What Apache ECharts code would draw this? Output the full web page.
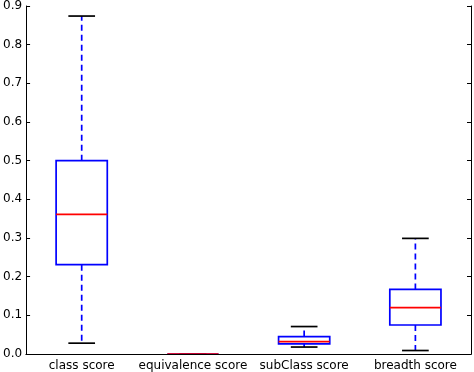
<!DOCTYPE html>
<html>
<head>
<meta charset="utf-8">
<script src="https://cdn.jsdelivr.net/npm/echarts@6/dist/echarts.min.js"></script>
<style>html,body{margin:0;padding:0;background:#fff}#c{width:474px;height:372px}</style>
</head>
<body>
<div id="c"></div>
<script>
const categories = ['class score', 'equivalence score', 'subClass score', 'breadth score'];
const whiskerLow = [0.028, 0, 0.018, 0.009];
const q1 = [0.231, 0, 0.026, 0.075];
const median = [0.361, 0, 0.032, 0.120];
const q3 = [0.500, 0, 0.045, 0.167];
const whiskerHigh = [0.874, 0, 0.071, 0.299];
const yTicks = [0, 0.1, 0.2, 0.3, 0.4, 0.5, 0.6, 0.7, 0.8, 0.9];

const data = categories.map((c, i) => [i, whiskerLow[i], q1[i], median[i], q3[i], whiskerHigh[i]]);

function renderItem(params, api) {
  const i = api.value(0);
  const band = api.size([1, 0])[0];
  const half = band * 0.23;
  const capHalf = band * 0.12;
  const pLow = api.coord([i, api.value(1)]);
  const pQ1 = api.coord([i, api.value(2)]);
  const pMed = api.coord([i, api.value(3)]);
  const pQ3 = api.coord([i, api.value(4)]);
  const pHigh = api.coord([i, api.value(5)]);
  const x = pMed[0];
  const blue = '#0000ff';
  const lw = 1.7;
  return {
    type: 'group',
    children: [
      {type: 'line', shape: {x1: x, y1: pQ3[1], x2: x, y2: pHigh[1]}, style: {stroke: blue, lineWidth: lw, lineDash: [6, 4]}},
      {type: 'line', shape: {x1: x, y1: pQ1[1], x2: x, y2: pLow[1]}, style: {stroke: blue, lineWidth: lw, lineDash: [6, 4]}},
      {type: 'line', shape: {x1: x - capHalf, y1: pHigh[1], x2: x + capHalf, y2: pHigh[1]}, style: {stroke: '#000', lineWidth: lw}},
      {type: 'line', shape: {x1: x - capHalf, y1: pLow[1], x2: x + capHalf, y2: pLow[1]}, style: {stroke: '#000', lineWidth: lw}},
      {type: 'rect', shape: {x: x - half, y: pQ3[1], width: 2 * half, height: pQ1[1] - pQ3[1]}, style: {stroke: blue, fill: 'none', lineWidth: lw}},
      {type: 'line', shape: {x1: x - half, y1: pMed[1], x2: x + half, y2: pMed[1]}, style: {stroke: '#ff0000', lineWidth: lw}}
    ]
  };
}

const chart = echarts.init(document.getElementById('c'));
const axisFont = {fontFamily: 'DejaVu Sans', fontSize: 12, color: '#000'};
chart.setOption({
  animation: false,
  grid: {left: 21, right: 3, top: 5, bottom: 16, containLabel: false},
  xAxis: [
    {type: 'category', data: categories, position: 'bottom', z: 10,
     axisLine: {lineStyle: {color: '#000', width: 1}},
     axisTick: {inside: true, alignWithLabel: true, length: 4, lineStyle: {color: '#000'}},
     axisLabel: Object.assign({margin: 6, interval: 0}, axisFont),
     splitLine: {show: false}},
    {type: 'category', data: categories, position: 'top', z: 10,
     axisLine: {lineStyle: {color: '#000', width: 1}},
     axisTick: {inside: true, alignWithLabel: true, length: 4, lineStyle: {color: '#000'}},
     axisLabel: {show: false}, splitLine: {show: false}}
  ],
  yAxis: [
    {type: 'value', min: 0, max: 0.9, interval: 0.1, position: 'left', z: 10,
     axisLine: {show: true, lineStyle: {color: '#000', width: 1}},
     axisTick: {show: true, inside: true, length: 4, lineStyle: {color: '#000'}},
     axisLabel: Object.assign({margin: 4, formatter: v => v.toFixed(1)}, axisFont),
     splitLine: {show: false}},
    {type: 'value', min: 0, max: 0.9, interval: 0.1, position: 'right', z: 10,
     axisLine: {show: true, lineStyle: {color: '#000', width: 1}},
     axisTick: {show: true, inside: true, length: 4, lineStyle: {color: '#000'}},
     axisLabel: {show: false}, splitLine: {show: false}}
  ],
  series: [{
    type: 'custom',
    renderItem: renderItem,
    data: data,
    encode: {x: 0, y: [1, 2, 3, 4, 5]},
    clip: true,
    z: 2
  }]
});
</script>
</body>
</html>
